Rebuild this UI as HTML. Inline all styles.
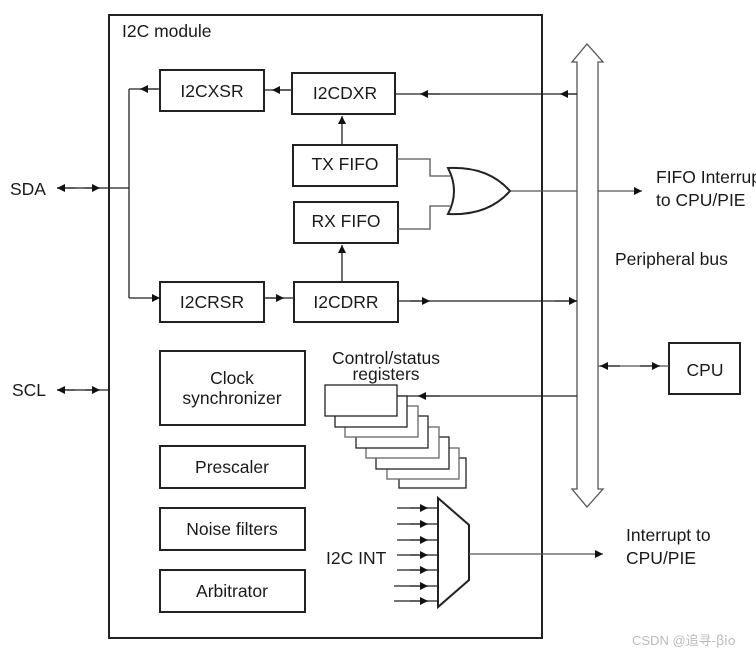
<!DOCTYPE html>
<html><head><meta charset="utf-8"><style>
html,body{margin:0;padding:0;background:#fff;width:756px;height:654px;overflow:hidden}
svg{display:block}
text{font-family:"Liberation Sans",Arial,sans-serif;font-size:17.5px;fill:#1a1a1a}
</style></head><body>
<svg width="756" height="654" viewBox="0 0 756 654" xmlns="http://www.w3.org/2000/svg">
<defs>
<marker id="a" viewBox="0 0 10 10" refX="10" refY="5" markerWidth="8" markerHeight="8" orient="auto" markerUnits="userSpaceOnUse"><path d="M0,0 L10,5 L0,10 z" fill="#111"/></marker>
</defs>
<g fill="none" stroke="#222" stroke-width="2">
<rect x="109" y="15" width="433" height="623"/>
<rect x="160" y="70" width="104" height="41"/>
<rect x="292" y="73" width="103" height="41"/>
<rect x="293" y="145" width="104" height="41"/>
<rect x="294" y="202" width="104" height="41"/>
<rect x="160" y="282" width="104" height="40"/>
<rect x="294" y="282" width="104" height="40"/>
<rect x="160" y="351" width="145" height="74"/>
<rect x="160" y="446" width="145" height="42"/>
<rect x="160" y="508" width="145" height="42"/>
<rect x="160" y="570" width="145" height="42"/>
<rect x="669" y="343" width="71" height="51"/>
</g>
<text x="122" y="37">I2C module</text>
<text x="212" y="97" text-anchor="middle">I2CXSR</text>
<text x="345" y="99" text-anchor="middle">I2CDXR</text>
<text x="345" y="170" text-anchor="middle">TX FIFO</text>
<text x="346" y="227" text-anchor="middle">RX FIFO</text>
<text x="212" y="308" text-anchor="middle">I2CRSR</text>
<text x="346" y="308" text-anchor="middle">I2CDRR</text>
<text x="232" y="384" text-anchor="middle">Clock</text>
<text x="232" y="404" text-anchor="middle">synchronizer</text>
<text x="232" y="473" text-anchor="middle">Prescaler</text>
<text x="232" y="535" text-anchor="middle">Noise filters</text>
<text x="232" y="597" text-anchor="middle">Arbitrator</text>
<text x="705" y="376" text-anchor="middle">CPU</text>
<text x="10" y="195">SDA</text>
<text x="12" y="396">SCL</text>
<text x="386" y="364" text-anchor="middle">Control/status</text>
<text x="386" y="380" text-anchor="middle">registers</text>
<text x="326" y="564">I2C INT</text>
<text x="656" y="183">FIFO Interrupt</text>
<text x="656" y="206">to CPU/PIE</text>
<text x="615" y="265">Peripheral bus</text>
<text x="626" y="541">Interrupt to</text>
<text x="626" y="564">CPU/PIE</text>
<text x="632" y="645" style="font-size:13px;fill:#bbb">CSDN @追寻-<tspan font-family="Noto Sans CJK SC">βio</tspan></text>

<path d="M577,489 V62 H572 L587,44 L603,62 H598 V489 H603 L587,507 L572,489 Z" fill="#fff" stroke="#555" stroke-width="1.3"/>

<g stroke="#222" stroke-width="1.3" fill="none">
<line x1="577" y1="94" x2="395" y2="94"/>
<line x1="577" y1="94" x2="560" y2="94" marker-end="url(#a)"/>
<line x1="440" y1="94" x2="420" y2="94" marker-end="url(#a)"/>
<line x1="292" y1="90" x2="264" y2="90"/>
<line x1="290" y1="90" x2="272" y2="90" marker-end="url(#a)"/>
<line x1="160" y1="89" x2="129" y2="89"/>
<line x1="158" y1="89" x2="140" y2="89" marker-end="url(#a)"/>
<line x1="129" y1="89" x2="129" y2="298"/>
<line x1="129" y1="298" x2="160" y2="298" marker-end="url(#a)"/>
<line x1="129" y1="188" x2="57" y2="188"/>
<line x1="75" y1="188" x2="57" y2="188" marker-end="url(#a)"/>
<line x1="85" y1="188" x2="100" y2="188" marker-end="url(#a)"/>
<line x1="57" y1="390" x2="109" y2="390"/>
<line x1="75" y1="390" x2="57" y2="390" marker-end="url(#a)"/>
<line x1="85" y1="390" x2="100" y2="390" marker-end="url(#a)"/>
<line x1="264" y1="298" x2="294" y2="298"/>
<line x1="266" y1="298" x2="284" y2="298" marker-end="url(#a)"/>
<line x1="398" y1="301" x2="577" y2="301"/>
<line x1="410" y1="301" x2="430" y2="301" marker-end="url(#a)"/>
<line x1="555" y1="301" x2="577" y2="301" marker-end="url(#a)"/>
<line x1="342" y1="145" x2="342" y2="116" marker-end="url(#a)"/>
<line x1="342" y1="282" x2="342" y2="245" marker-end="url(#a)"/>
</g>
<g stroke="#555" stroke-width="1.3" fill="none">
<polyline points="397,159 430,159 430,176 450,176"/>
<polyline points="398,229 430,229 430,206 450,206"/>
<line x1="510" y1="191" x2="577" y2="191"/>
<line x1="598" y1="191" x2="642" y2="191" marker-end="url(#a)"/>
<line x1="598" y1="366" x2="669" y2="366"/>
</g>
<path d="M448,168 Q488,166 510,191 Q488,216 448,214 Q460,191 448,168 Z" fill="#fff" stroke="#222" stroke-width="2"/>
<g stroke="#222" stroke-width="1.3">
<line x1="620" y1="366" x2="600" y2="366" marker-end="url(#a)"/>
<line x1="640" y1="366" x2="660" y2="366" marker-end="url(#a)"/>
<line x1="577" y1="396" x2="397" y2="396"/>
<line x1="440" y1="396" x2="418" y2="396" marker-end="url(#a)"/>
</g>
<g fill="#fff" stroke-width="1.3">
<rect x="399" y="458" width="67" height="30" stroke="#222"/>
<rect x="387" y="448" width="72" height="31" stroke="#666"/>
<rect x="376" y="437" width="73" height="32" stroke="#222"/>
<rect x="366" y="427" width="73" height="31" stroke="#666"/>
<rect x="356" y="416" width="72" height="32" stroke="#222"/>
<rect x="345" y="406" width="73" height="31" stroke="#666"/>
<rect x="335" y="396" width="72" height="31" stroke="#222"/>
<rect x="325" y="385" width="72" height="31" stroke="#222"/>
</g>
<path d="M438,498 L469,525 L469,580 L438,607 Z" fill="#fff" stroke="#222" stroke-width="2"/>
<g stroke="#222" stroke-width="1.3">
<line x1="397" y1="508" x2="438" y2="508"/><line x1="410" y1="508" x2="428" y2="508" marker-end="url(#a)"/>
<line x1="397" y1="524" x2="438" y2="524"/><line x1="410" y1="524" x2="428" y2="524" marker-end="url(#a)"/>
<line x1="397" y1="540" x2="438" y2="540"/><line x1="410" y1="540" x2="428" y2="540" marker-end="url(#a)"/>
<line x1="397" y1="555" x2="438" y2="555"/><line x1="410" y1="555" x2="428" y2="555" marker-end="url(#a)"/>
<line x1="397" y1="570" x2="438" y2="570"/><line x1="410" y1="570" x2="428" y2="570" marker-end="url(#a)"/>
<line x1="394" y1="586" x2="438" y2="586"/><line x1="410" y1="586" x2="428" y2="586" marker-end="url(#a)"/>
<line x1="394" y1="601" x2="438" y2="601"/><line x1="410" y1="601" x2="428" y2="601" marker-end="url(#a)"/>
</g>
<g stroke="#555" stroke-width="1.3">
<line x1="469" y1="554" x2="603" y2="554" marker-end="url(#a)"/>
</g>
</svg>
</body></html>
